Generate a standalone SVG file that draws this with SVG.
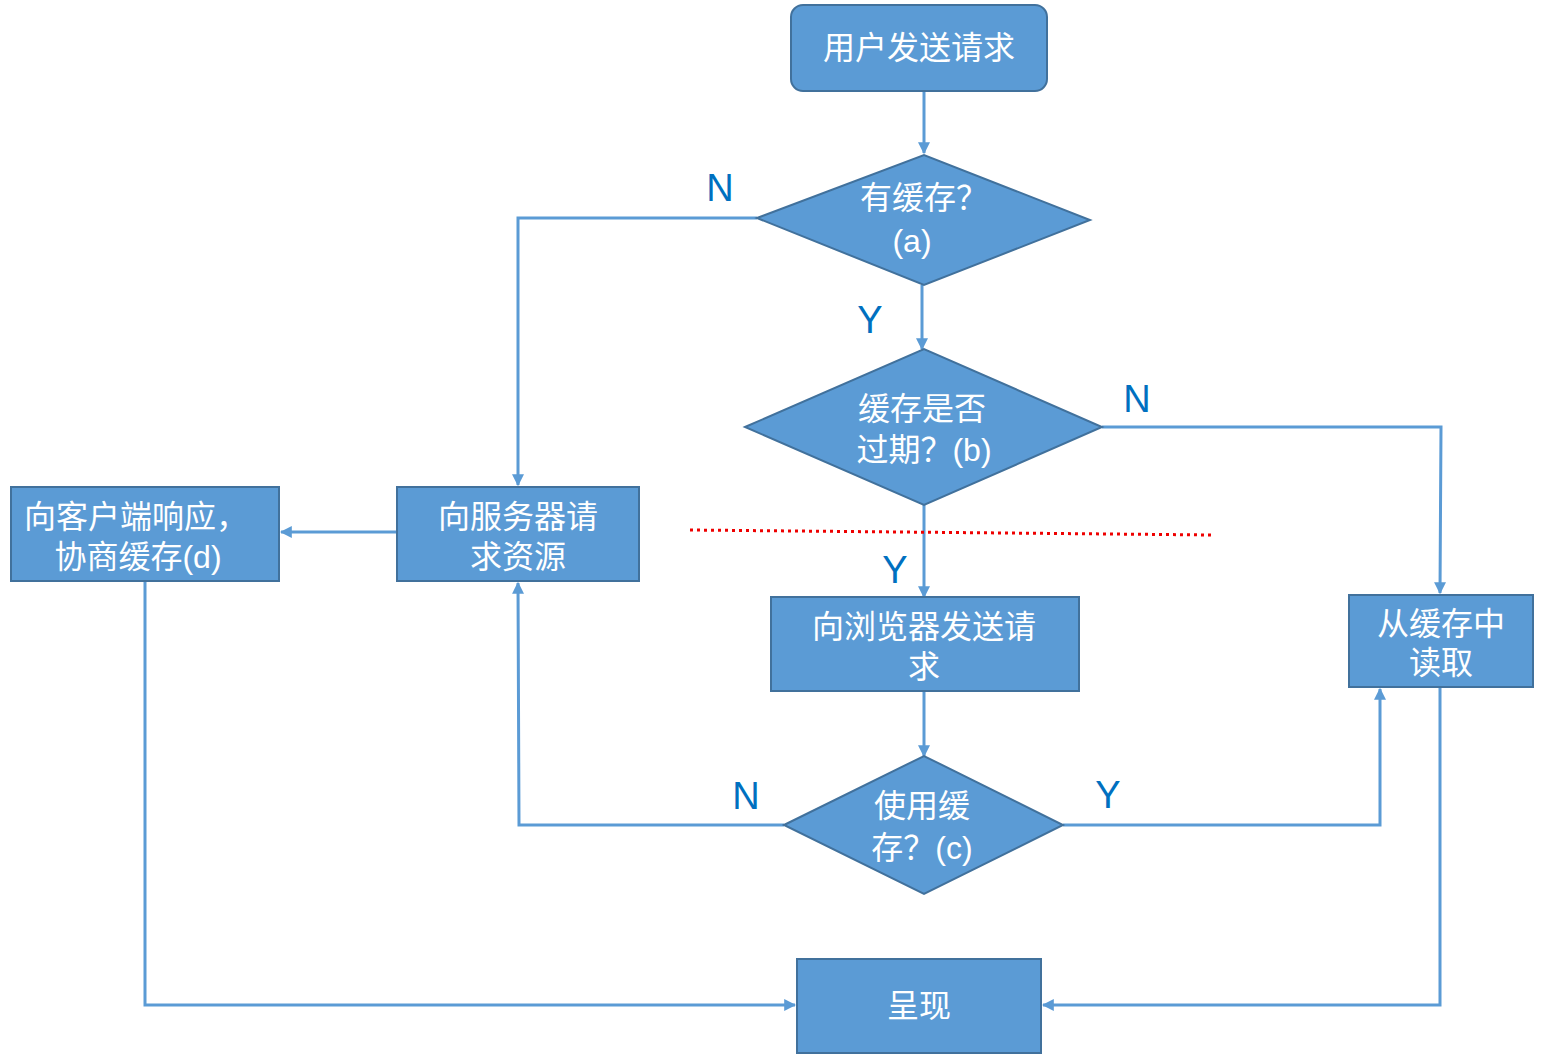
<svg xmlns="http://www.w3.org/2000/svg" width="1546" height="1064" viewBox="0 0 1546 1064">
<style>
.n{fill:#5B9BD5;stroke:#41719C;stroke-width:2}
.t{fill:#fff;font-family:"Liberation Sans","Noto Sans CJK SC",sans-serif;font-size:32px;text-anchor:middle}
.l{fill:#0070C0;font-family:"Liberation Sans",sans-serif;font-size:38px;text-anchor:middle}
.c{fill:none;stroke:#5B9BD5;stroke-width:3}
</style>
<defs><marker id="a" viewBox="0 0 10 10" refX="9" refY="5" markerWidth="4" markerHeight="4" orient="auto"><path d="M0,0L10,5L0,10z" fill="#5B9BD5"/></marker></defs>
<rect width="1546" height="1064" fill="#fff"/>
<g id="connectors">
<path class="c" d="M924,91V153" marker-end="url(#a)"/>
<path class="c" d="M757,218H518V485" marker-end="url(#a)"/>
<path class="c" d="M922,285V349" marker-end="url(#a)"/>
<path class="c" d="M1102,427H1441L1440,593" marker-end="url(#a)"/>
<path class="c" d="M924,505V597" marker-end="url(#a)"/>
<path class="c" d="M397,532H281" marker-end="url(#a)"/>
<path class="c" d="M924,691V756" marker-end="url(#a)"/>
<path class="c" d="M784,825H519L518,583" marker-end="url(#a)"/>
<path class="c" d="M1063,825H1380V689" marker-end="url(#a)"/>
<path class="c" d="M145,581V1005H795" marker-end="url(#a)"/>
<path class="c" d="M1440,687V1005H1043" marker-end="url(#a)"/>
<path d="M690,530L1214,535" stroke="#E00" stroke-width="3" stroke-dasharray="3,4" fill="none"/>
</g>
<g id="start"><rect class="n" x="791" y="5" width="256" height="86" rx="12"/><text class="t" x="919" y="59">用户发送请求</text></g>
<g id="da"><polygon class="n" points="757,218 924,155 1090,220 924,285"/><text class="t" x="924" y="209">有缓存？</text><text class="t" x="912" y="252">(a)</text></g>
<g id="db"><polygon class="n" points="745,427 924,349 1102,427 924,505"/><text class="t" x="922" y="420">缓存是否</text><text class="t" x="924" y="461">过期？(b)</text></g>
<g id="server"><rect class="n" x="397" y="487" width="242" height="94"/><text class="t" x="518" y="528">向服务器请</text><text class="t" x="518" y="568">求资源</text></g>
<g id="client"><rect class="n" x="11" y="487" width="268" height="94"/><text class="t" x="136" y="528">向客户端响应，</text><text class="t" x="138" y="568">协商缓存(d)</text></g>
<g id="browser"><rect class="n" x="771" y="597" width="308" height="94"/><text class="t" x="924" y="638">向浏览器发送请</text><text class="t" x="924" y="678">求</text></g>
<g id="read"><rect class="n" x="1349" y="595" width="184" height="92"/><text class="t" x="1441" y="635">从缓存中</text><text class="t" x="1441" y="674">读取</text></g>
<g id="dc"><polygon class="n" points="784,825 924,756 1063,825 924,894"/><text class="t" x="922" y="817">使用缓</text><text class="t" x="922" y="859">存？(c)</text></g>
<g id="show"><rect class="n" x="797" y="959" width="244" height="94"/><text class="t" x="919" y="1017">呈现</text></g>
<g id="labels">
<text class="l" x="720" y="201">N</text><text class="l" x="870" y="333">Y</text><text class="l" x="1137" y="412">N</text><text class="l" x="895" y="583">Y</text><text class="l" x="746" y="809">N</text><text class="l" x="1108" y="808">Y</text>
</g>
</svg>
